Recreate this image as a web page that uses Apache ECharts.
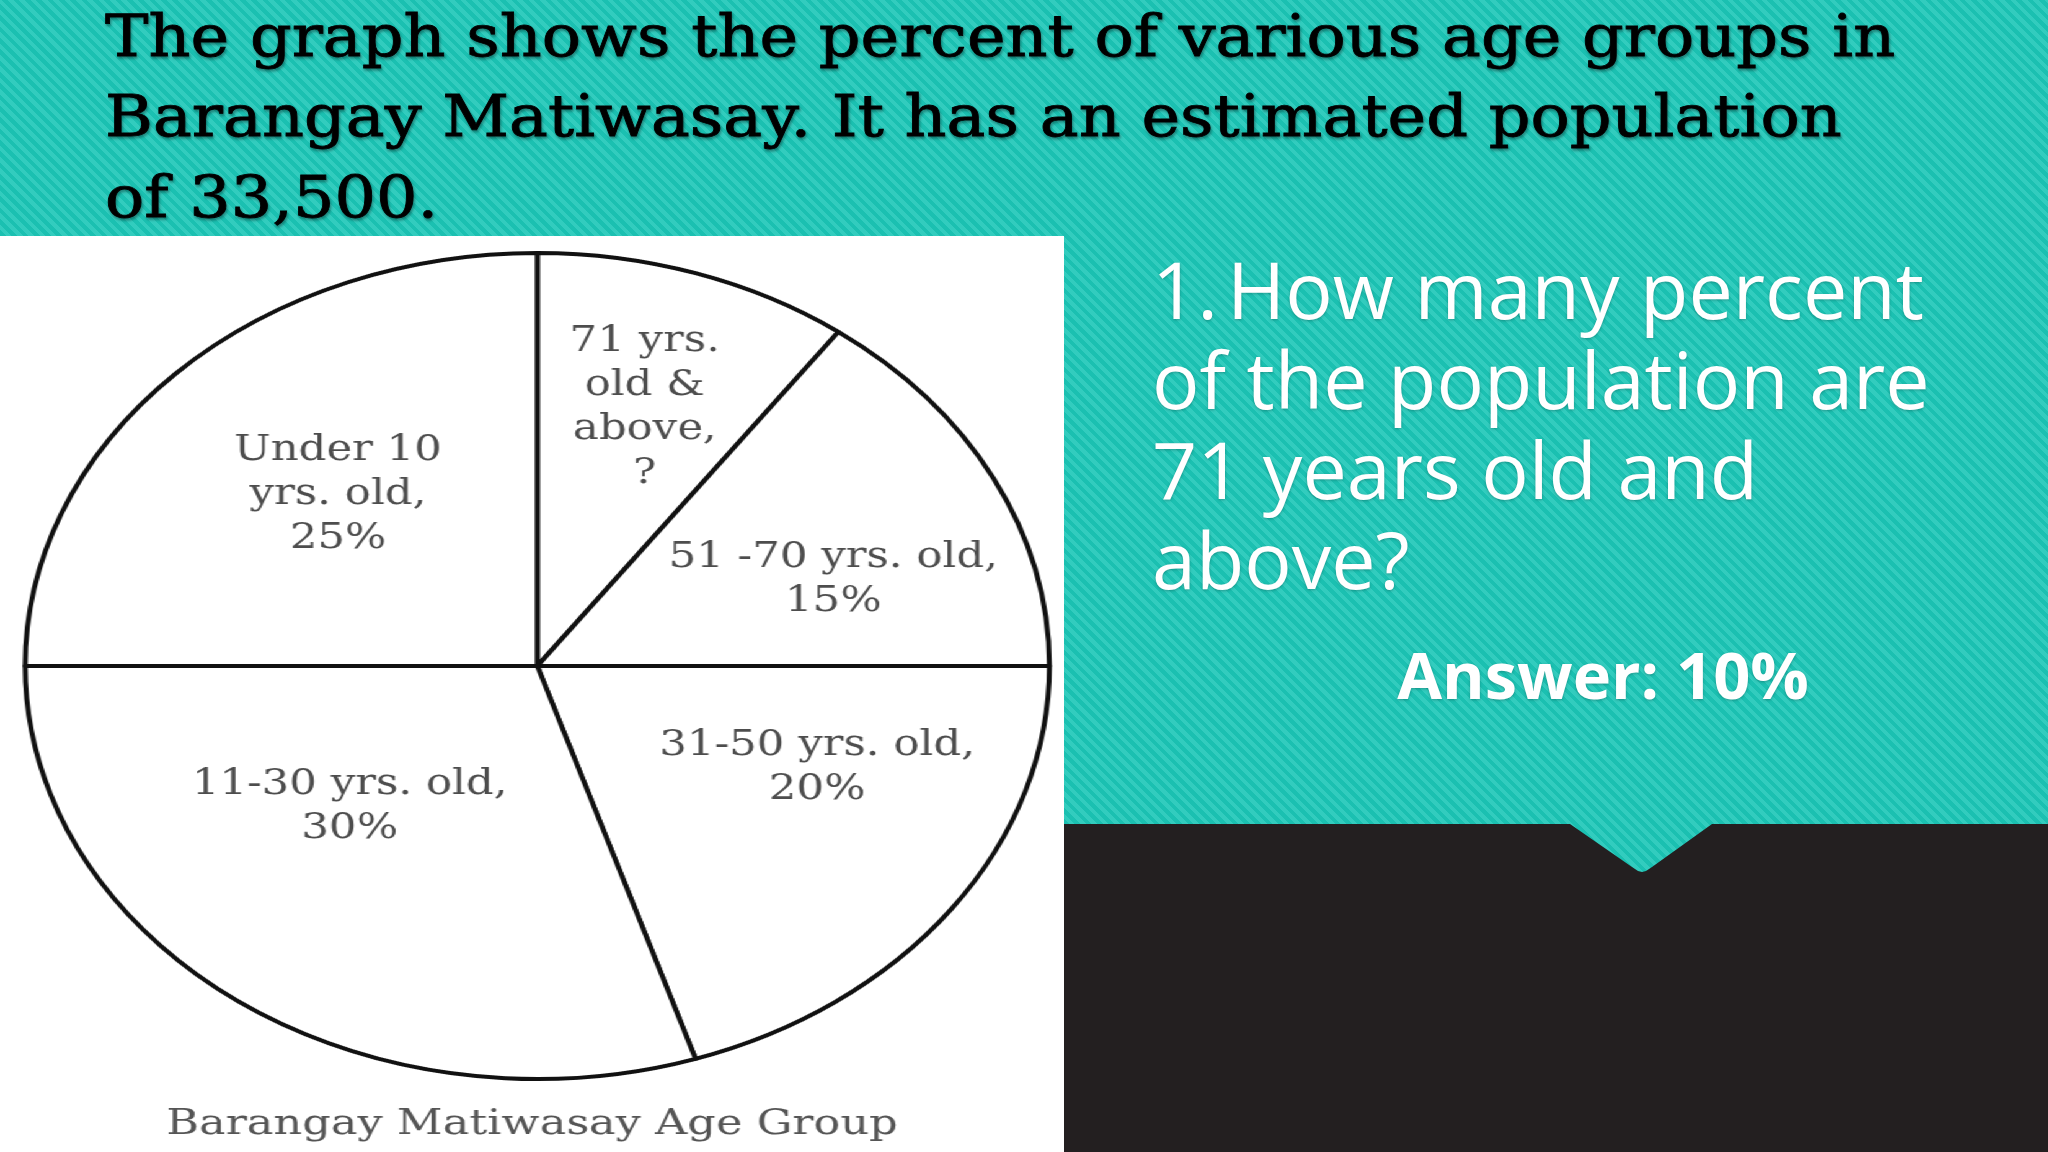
<!DOCTYPE html>
<html>
<head>
<meta charset="utf-8">
<script src="https://cdn.jsdelivr.net/npm/echarts@6/dist/echarts.min.js"></script>
<style>
  html, body { margin: 0; padding: 0; width: 2048px; height: 1152px; overflow: hidden; }
  body {
    background: repeating-linear-gradient(45deg, #1bc0b1 0px, #1bc0b1 4px, #32ccbe 4px, #32ccbe 8px);
    position: relative;
  }
  #page { position: absolute; left: 0; top: 0; width: 2048px; height: 1152px; z-index: 1; }
  #pie {
    position: absolute; left: 0; top: 236px; width: 858px; height: 916px;
    background: #ffffff; z-index: 2;
    transform: scaleX(1.24); transform-origin: 0 0;
  }
</style>
</head>
<body>
<div id="page"></div>
<div id="pie"></div>
<script>
// ---- data ----
const categories = ['71 yrs.\nold &\nabove,', '51 -70 yrs. old,', '31-50 yrs. old,', '11-30 yrs. old,', 'Under 10\nyrs. old,'];
const values = [10, 15, 20, 30, 25];
const valueLabels = ['?', '15%', '20%', '30%', '25%'];
const chartCaption = 'Barangay Matiwasay Age Group';
const titleLines = [
  'The graph shows the percent of various age groups in',
  'Barangay Matiwasay. It has an estimated population',
  'of 33,500.'
];
const questionNumber = '1.';
const questionLines = ['How many percent', 'of the population are', '71 years old and', 'above?'];
const answerText = 'Answer: 10%';

// ---- layout (not data) ----
const pieCenter = [433.3, 430];
const labelOffsets = [[86.7, -258.5], [238.7, -86], [225.7, 102], [-151.3, 141], [-160.7, -171]];

// ---- page chart: background panels and texts ----
const page = echarts.init(document.getElementById('page'), null, { renderer: 'canvas' });
const graphics = [];
graphics.push({
  type: 'polygon',
  shape: { points: [[1064, 824], [1570, 824], [1632, 867], [1638, 871], [1642, 872], [1646, 871], [1652, 867], [1712, 824], [2048, 824], [2048, 1152], [1064, 1152]] },
  style: { fill: '#231f20' }
});
const titleY = [41, 121, 202];
titleLines.forEach((t, i) => {
  graphics.push({
    type: 'text', x: 105, y: titleY[i], scaleX: 1.125,
    style: {
      text: t, fill: '#000000', font: '58px "DejaVu Serif"',
      align: 'left', verticalAlign: 'middle',
      stroke: '#000000', lineWidth: 0.8,
      textShadowColor: 'rgba(0,0,0,0.35)', textShadowBlur: 3, textShadowOffsetX: 1, textShadowOffsetY: 2
    }
  });
});
const qY = [296, 386, 476, 566];
const qFont = '79px "Open Sans"';
const qStyle = { fill: '#ffffff', font: qFont, align: 'left', verticalAlign: 'middle',
  textShadowColor: 'rgba(0,0,0,0.25)', textShadowBlur: 3, textShadowOffsetY: 1 };
graphics.push({ type: 'text', x: 1152, y: qY[0], style: Object.assign({ text: questionNumber }, qStyle) });
questionLines.forEach((t, i) => {
  graphics.push({ type: 'text', x: i === 0 ? 1227 : 1152, y: qY[i], style: Object.assign({ text: t }, qStyle) });
});
graphics.push({
  type: 'text', x: 1603, y: 680,
  style: { text: answerText, fill: '#ffffff', font: 'bold 65px "Open Sans"', align: 'center', verticalAlign: 'middle',
    textShadowColor: 'rgba(0,0,0,0.25)', textShadowBlur: 3, textShadowOffsetY: 1 }
});
page.setOption({
  backgroundColor: 'transparent',
  animation: false,
  graphic: graphics
});

// ---- pie chart ----
const pie = echarts.init(document.getElementById('pie'), null, { renderer: 'canvas' });
pie.setOption({
  backgroundColor: '#ffffff',
  animation: false,
  title: {
    text: chartCaption, left: 'center', top: 871, padding: 0,
    textStyle: { fontFamily: 'DejaVu Serif', fontSize: 36, fontWeight: 'normal', color: '#555555' }
  },
  series: [{
    type: 'pie',
    center: pieCenter,
    radius: 413,
    startAngle: 90,
    clockwise: true,
    silent: true,
    data: categories.map((c, i) => ({ name: c, value: values[i] })),
    itemStyle: { color: '#ffffff', borderColor: '#111111', borderWidth: 4 },
    label: {
      show: true, position: 'inside',
      formatter: p => p.name + '\n' + valueLabels[p.dataIndex],
      fontFamily: 'DejaVu Serif', fontSize: 35, lineHeight: 44, color: '#4d4d4d', align: 'center'
    },
    labelLine: { show: false },
    labelLayout: p => ({
      x: pieCenter[0] + labelOffsets[p.dataIndex][0],
      y: pieCenter[1] + labelOffsets[p.dataIndex][1],
      align: 'center', verticalAlign: 'middle'
    })
  }]
});
</script>
</body>
</html>
